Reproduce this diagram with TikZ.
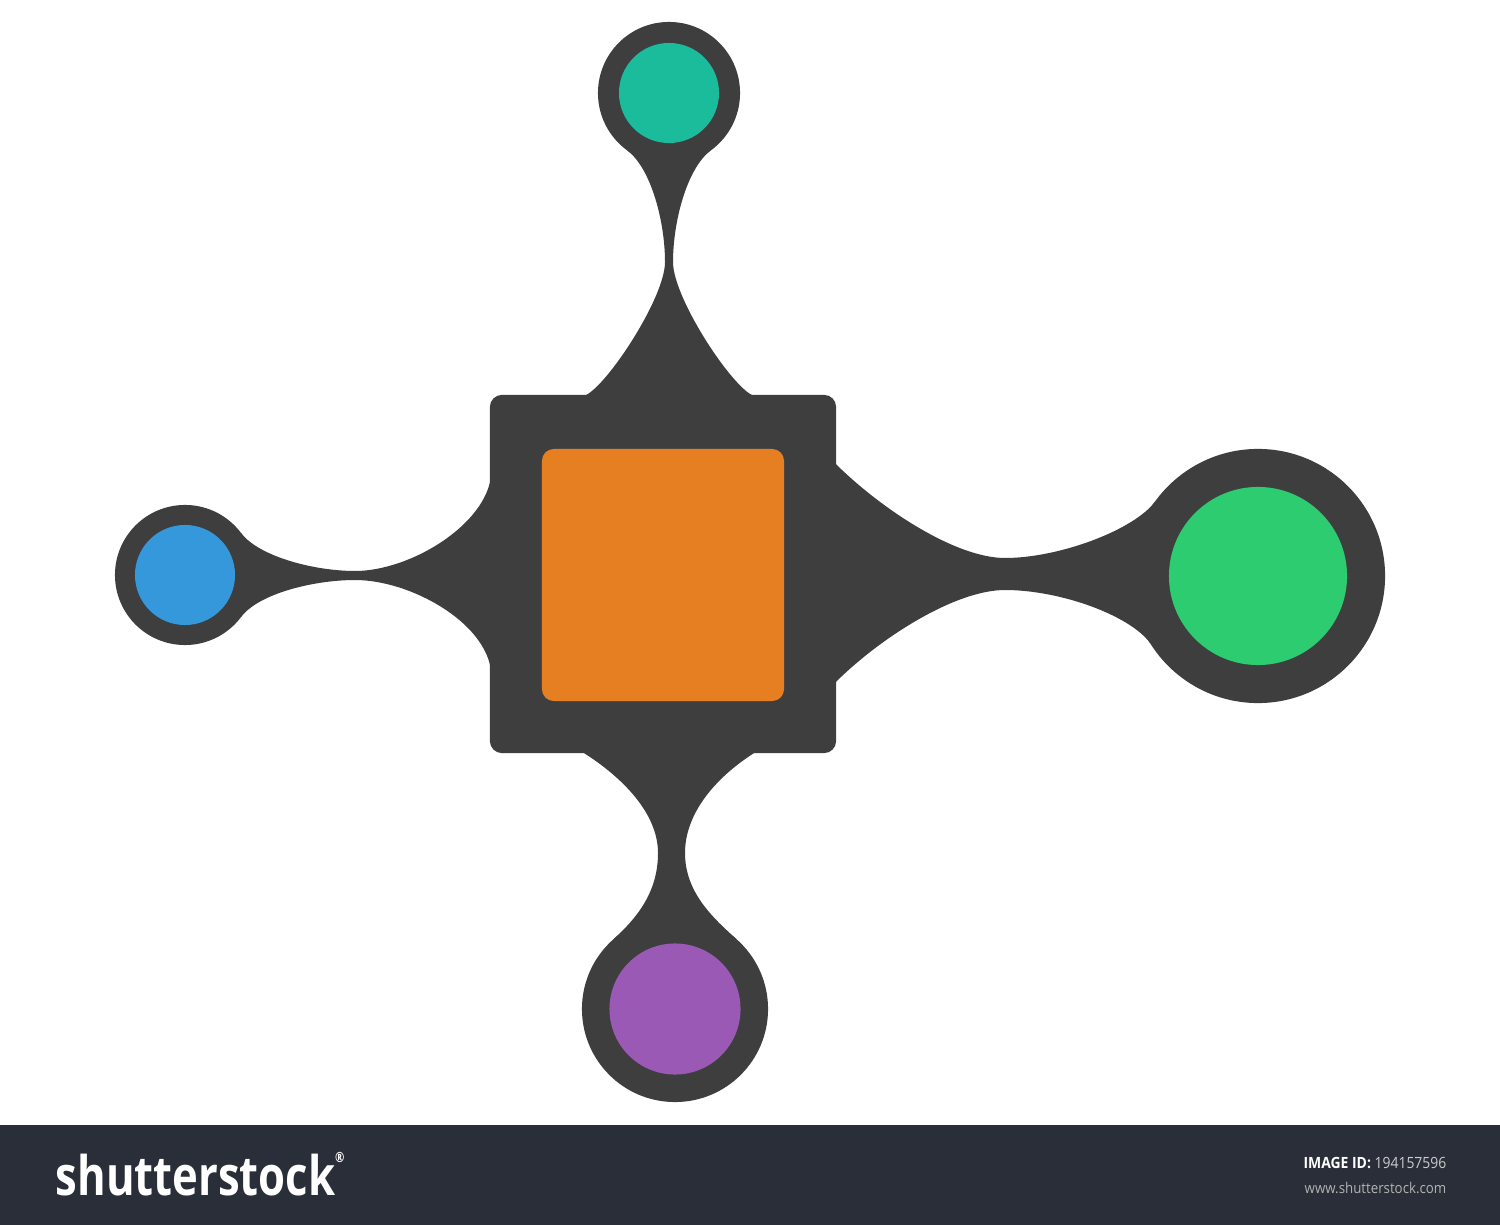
\documentclass[tikz,border=0pt]{standalone}
\usepackage{fontspec}
\setmainfont{Open Sans}
\newfontfamily\logofont[FakeStretch=0.8]{Open Sans}
\newfontfamily\idfont[FakeStretch=0.9]{Open Sans}
\usepackage{xcolor}
\usetikzlibrary{calc}
\definecolor{ink}{HTML}{3E3E3E}
\definecolor{coreorange}{HTML}{E67E22}
\definecolor{topteal}{HTML}{1ABC9C}
\definecolor{leftblue}{HTML}{3498DB}
\definecolor{rightgreen}{HTML}{2ECC71}
\definecolor{botpurple}{HTML}{9B59B6}
\definecolor{footerbg}{HTML}{292E38}
\tikzset{
	ring/.style={circle, fill=ink, inner sep=0pt, outer sep=0pt, minimum size=#1},
	dot/.style={circle, inner sep=0pt, outer sep=0pt, minimum size=#1},
	hubbox/.style={rectangle, fill=ink, rounded corners=0.12cm, inner sep=0pt,
			minimum width=3.46cm, minimum height=3.58cm},
	corebox/.style={rectangle, fill=coreorange, rounded corners=0.12cm, inner sep=0pt,
			minimum width=2.42cm, minimum height=2.52cm},
	neck/.style={fill=ink}
}

\begin{document}
\begin{tikzpicture}[x=0.01cm, y=-0.01cm]
		% Page and footer band
		\useasboundingbox (0,0) rectangle (1500,1225);
		\fill[white] (0,0) rectangle (1500,1225);
		\fill[footerbg] (0,1125) rectangle (1500,1225);
		% Draw the hub and the rings
		\node[hubbox] (hub) at (663,574) {};
		\node[ring=1.42cm] (topring) at (669,93) {};
		\node[ring=1.40cm] (leftring) at (185,575) {};
		\node[ring=2.54cm] (rightring) at (1258,576) {};
		\node[ring=1.86cm] (botring) at (675,1009) {};
		% Waists of the necks
		\coordinate (topwaist) at (669,262);
		\coordinate (leftwaist) at (355,575.5);
		\coordinate (rightwaist) at (1005,574);
		\coordinate (botwaist) at (671.5,853);
		% Draw the necks
		\fill[neck] (topring.234) .. controls +(24,18) and +(0,-40) .. ($(topwaist)+(-4,0)$)
			.. controls +(0,38) and +(18,0) .. ($(hub.north)+(-81,2)$)
			-- ($(hub.north)+(93,2)$)
			.. controls +(-18,0) and +(0,38) .. ($(topwaist)+(4,0)$)
			.. controls +(0,-40) and +(-24,18) .. (topring.306) -- cycle;
		\fill[neck] (leftring.37) .. controls +(18,24) and +(-40,0) .. ($(leftwaist)+(0,-4.5)$)
			.. controls +(55,0) and +(-5,50) .. ($(hub.west)+(2,-99)$)
			-- ($(hub.west)+(2,98)$)
			.. controls +(-5,-50) and +(55,0) .. ($(leftwaist)+(0,4.5)$)
			.. controls +(-40,0) and +(18,-24) .. (leftring.-37) -- cycle;
		\fill[neck] ($(hub.east)+(-2,-111)$) .. controls +(45,45) and +(-50,0) .. ($(rightwaist)+(0,-16)$)
			.. controls +(55,0) and +(-20,28) .. (rightring.144)
			-- (rightring.212)
			.. controls +(-20,-28) and +(55,0) .. ($(rightwaist)+(0,16)$)
			.. controls +(-50,0) and +(45,-45) .. ($(hub.east)+(-2,109)$) -- cycle;
		\fill[neck] ($(hub.south)+(-81,-2)$) .. controls +(40,25) and +(0,-40) .. ($(botwaist)+(-13.5,0)$)
			.. controls +(0,40) and +(22,-20) .. (botring.131)
			-- (botring.49)
			.. controls +(-22,-20) and +(0,40) .. ($(botwaist)+(13.5,0)$)
			.. controls +(0,-40) and +(-40,25) .. ($(hub.south)+(93,-2)$) -- cycle;
		% Draw the coloured dots and the core
		\node[corebox] (core) at (663,575) {};
		\node[dot=1.00cm, fill=topteal] (topdot) at (topring) {};
		\node[dot=1.00cm, fill=leftblue] (leftdot) at (leftring) {};
		\node[dot=1.78cm, fill=rightgreen] (rightdot) at (rightring) {};
		\node[dot=1.31cm, fill=botpurple] (botdot) at (botring) {};
		% Footer texts
		\node[anchor=base west, inner sep=0pt, text=white,
			font=\logofont\bfseries\fontsize{15.5}{16}\selectfont] (logo) at (55,1195)
			{shutterstock\raisebox{1.1ex}{\fontsize{4}{4}\selectfont\textregistered}};
		\node[anchor=base east, inner sep=0pt, text=black!20,
			font=\idfont\fontsize{4.4}{5}\selectfont] (imageid) at (1447,1168)
			{\textcolor{white}{\bfseries IMAGE ID:} 194157596};
		\node[anchor=base east, inner sep=0pt, text=black!30,
			font=\idfont\fontsize{4.2}{5}\selectfont] (siteurl) at (1447,1193)
			{www.shutterstock.com};
	\end{tikzpicture}
\end{document}
